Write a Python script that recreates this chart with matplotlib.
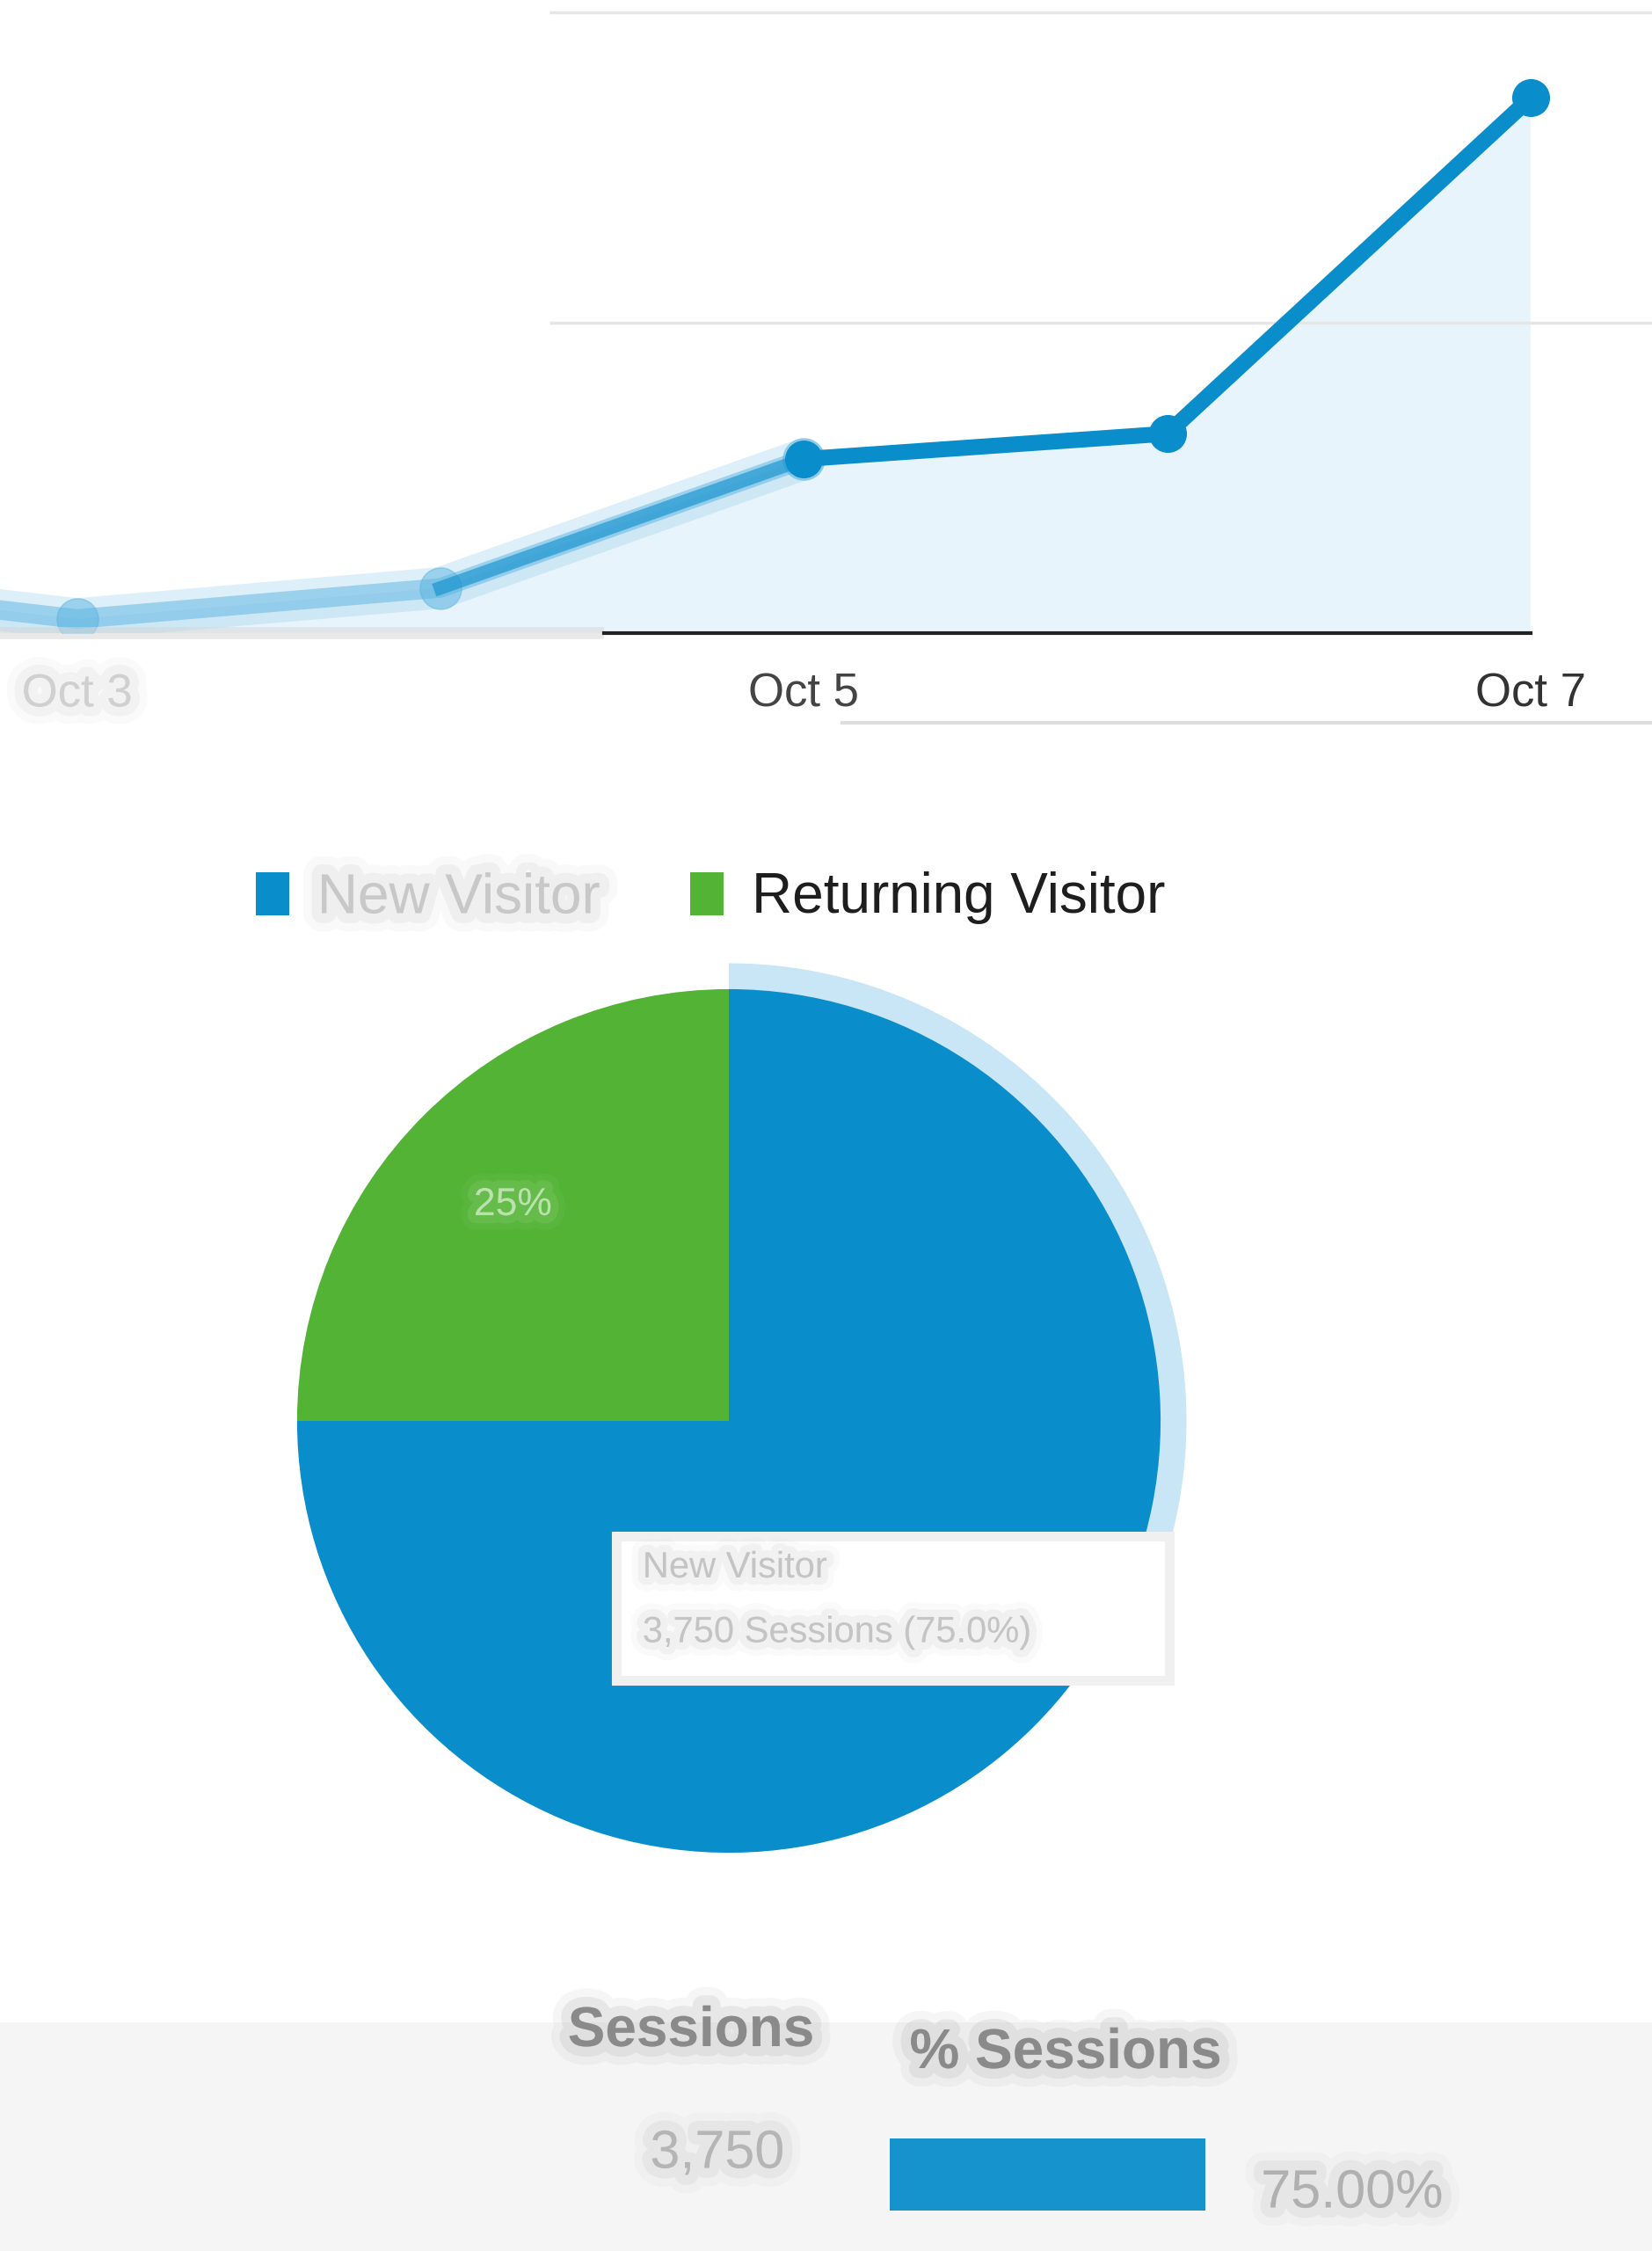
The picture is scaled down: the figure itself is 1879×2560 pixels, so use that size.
import matplotlib.pyplot as plt
import matplotlib.patheffects as pe
from matplotlib.patches import Rectangle, Wedge

plt.rcParams["font.family"] = ["Liberation Sans", "DejaVu Sans"]

# sessions per day (Oct 2 is partly off the left edge)
days = ["Oct 2", "Oct 3", "Oct 4", "Oct 5", "Oct 6", "Oct 7"]
sessions = [60, 15, 48, 185, 212, 569]
tick_days = ["Oct 3", "Oct 5", "Oct 7"]

# visitor split
visitor_types = ["New Visitor", "Returning Visitor"]
visitor_share = [75.0, 25.0]

# table under the pie
table_headers = ["Sessions", "% Sessions"]
table_sessions = ["3,750"]
table_pct = [75.0]

BLUE = "#0a8dcb"
GREEN = "#52b334"
FILL = "#e8f4fb"

fig = plt.figure(figsize=(18.79, 25.6), dpi=100)


def blur(c="#cccccc", w=20):
    # fake soft focus around text
    return [pe.Stroke(linewidth=w, foreground=c, alpha=0.12),
            pe.Stroke(linewidth=w * 0.55, foreground=c, alpha=0.25),
            pe.Normal()]


# ---- line chart ----
ax1 = fig.add_axes([0, 1 - 720 / 2560, 1, 720 / 2560])
x = list(range(-1, len(days) - 1))
ax1.set_xlim(-0.212, 4.334)
ax1.set_ylim(0, 673)
ax1.hlines([330, 660], 1.3, 4.4, color="#e6e6e6", lw=2.5)
ax1.fill_between(x, sessions, 0, color=FILL, lw=0)

# soft left part, sharp right part
ax1.plot(x[:4], sessions[:4], color="#8fcbea", lw=34, alpha=0.3, solid_capstyle="round")
ax1.plot(x[:4], sessions[:4], color="#5ab4e2", lw=16, alpha=0.5, marker="o", ms=34)
ax1.plot(x[2:4], sessions[2:4], color=BLUE, lw=11, alpha=0.6)
ax1.plot(x[3:], sessions[3:], color=BLUE, lw=13, marker="o", ms=30)

ax1.set_xticks([0, 2, 4])
ax1.set_xticklabels(tick_days, fontsize=38)
ax1.tick_params(length=0, pad=32)
labs = ax1.get_xticklabels()
labs[0].set_color("#d0d0d0")
labs[0].set_path_effects(blur("#dddddd", 28))
labs[1].set_color("#444444")
labs[2].set_color("#333333")
for s in ["top", "left", "right"]:
    ax1.spines[s].set_visible(False)
ax1.spines["bottom"].set_bounds(1.45, 4)
ax1.spines["bottom"].set_linewidth(3)
ax1.spines["bottom"].set_color("#222222")
ax1.hlines(0, -0.3, 1.45, color="#d5d5d5", lw=10, alpha=0.5, clip_on=False)
ax1.hlines(-95, 2.1, 4.4, color="#dddddd", lw=3, clip_on=False)
ax1.set_yticks([])

# ---- pie ----
ax2 = fig.add_axes([(829 - 550) / 1879, 1 - (1616 + 550) / 2560, 1100 / 1879, 1100 / 2560])
wedges, _ = ax2.pie(visitor_share, colors=[BLUE, GREEN], startangle=180,
                    wedgeprops=dict(lw=0))
# hover highlight on the blue slice
ax2.add_patch(Wedge((0, 0), 1.06, -25, wedges[0].theta2 % 360, width=0.07,
                    facecolor="#c9e6f6", lw=0, zorder=0))
ax2.set_xlim(-1.12, 1.12)
ax2.set_ylim(-1.12, 1.12)
ax2.set_aspect("auto")
ax2.text(-0.5, 0.5, f"{visitor_share[1]:.0f}%", color="white", alpha=0.4, fontsize=32,
         ha="center", va="center", path_effects=blur("#8fd07a", 24))

# tooltip
ax2.add_patch(Rectangle((-0.26, -0.60), 1.28, 0.333, facecolor="white", edgecolor="#f0f0f0",
                        lw=8, zorder=5))
ax2.text(-0.2, -0.34, visitor_types[0], fontsize=30, color="#c4c4c4", va="center", zorder=6,
         path_effects=blur("#d8d8d8", 22))
ax2.text(-0.2, -0.49, f"{table_sessions[0]} Sessions ({visitor_share[0]:.1f}%)", fontsize=30,
         color="#c4c4c4", va="center", zorder=6, path_effects=blur("#d8d8d8", 22))
ax2.axis("off")

leg = fig.legend(wedges, visitor_types, loc="center", bbox_to_anchor=(0.43, 0.601), ncol=2,
                 frameon=False, fontsize=46, handlelength=0.6, handleheight=0.8,
                 columnspacing=1.6, handletextpad=0.5)
leg.get_texts()[0].set_color("#c8c8c8")
leg.get_texts()[0].set_path_effects(blur("#d5d5d5", 30))
leg.get_texts()[1].set_color("#1e1e1e")

# ---- table ----
fig.patches.append(Rectangle((0, 0), 1, 1 - 2300 / 2560, transform=fig.transFigure,
                             facecolor="#f5f5f5", lw=0, zorder=-1))
fig.text(786 / 1879, 1 - 2310 / 2560, table_headers[0], fontsize=46, weight="bold",
         color="#8a8a8a", ha="center", va="center", path_effects=blur("#bbbbbb", 30))
fig.text(1212 / 1879, 1 - 2335 / 2560, table_headers[1], fontsize=46, weight="bold",
         color="#8a8a8a", ha="center", va="center", path_effects=blur("#bbbbbb", 30))
fig.text(816 / 1879, 1 - 2450 / 2560, table_sessions[0], fontsize=44, color="#b5b5b5",
         ha="center", va="center", path_effects=blur("#cccccc", 30))
fig.text(1538 / 1879, 1 - 2495 / 2560, f"{table_pct[0]:.2f}%", fontsize=44, color="#b0b0b0",
         ha="center", va="center", path_effects=blur("#cccccc", 30))

ax3 = fig.add_axes([1012 / 1879, 1 - 2514 / 2560, 479 / 1879, 82 / 2560])
ax3.barh([0], table_pct, height=1.0, color=BLUE, alpha=0.95)
ax3.set_xlim(0, 100)
ax3.set_ylim(-0.5, 0.5)
ax3.axis("off")

fig.savefig("out.png", dpi=100)
